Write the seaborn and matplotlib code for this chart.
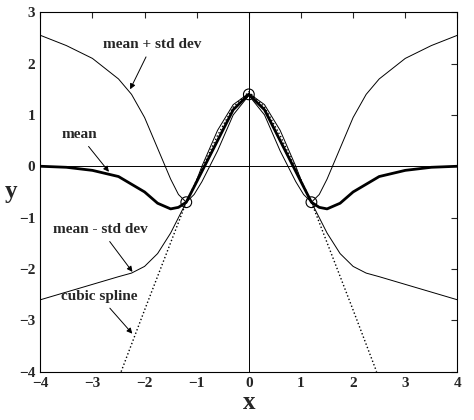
import matplotlib
matplotlib.use("Agg")
import matplotlib.pyplot as plt
import seaborn as sns
import pandas as pd

sns.set_style("white")
plt.rcParams['font.family'] = ['Liberation Serif', 'DejaVu Serif']

xs = [-4, -3.5, -3, -2.5, -2.25, -2, -1.75, -1.5, -1.35, -1.2, -1.05, -0.9, -0.6, -0.3, 0,
      0.3, 0.6, 0.9, 1.05, 1.2, 1.35, 1.5, 1.75, 2, 2.25, 2.5, 3, 3.5, 4]
mean = [0, -0.02, -0.08, -0.2, -0.35, -0.5, -0.72, -0.83, -0.8, -0.7, -0.4, -0.1, 0.5, 1.1, 1.4,
        1.1, 0.5, -0.1, -0.4, -0.7, -0.8, -0.83, -0.72, -0.5, -0.35, -0.2, -0.08, -0.02, 0]
upper = [2.55, 2.35, 2.1, 1.7, 1.4, 0.95, 0.35, -0.25, -0.55, -0.7, -0.4, 0.0, 0.7, 1.2, 1.42,
         1.2, 0.7, 0.0, -0.4, -0.7, -0.55, -0.25, 0.35, 0.95, 1.4, 1.7, 2.1, 2.35, 2.55]
lower = [-2.6, -2.45, -2.3, -2.15, -2.08, -1.95, -1.7, -1.3, -1.0, -0.7, -0.55, -0.3, 0.3, 1.0, 1.38,
         1.0, 0.3, -0.3, -0.55, -0.7, -1.0, -1.3, -1.7, -1.95, -2.08, -2.15, -2.3, -2.45, -2.6]
sx = [-2.45, -2.0, -1.6, -1.2, -0.9, -0.6, -0.3, 0, 0.3, 0.6, 0.9, 1.2, 1.6, 2.0, 2.45]
spline = [-4.0, -2.8, -1.75, -0.7, -0.05, 0.6, 1.15, 1.45, 1.15, 0.6, -0.05, -0.7, -1.75, -2.8, -4.0]
px = [-1.2, 0, 1.2]
py = [-0.7, 1.4, -0.7]

fig = plt.figure(figsize=(4.74, 4.2), dpi=100)
ax = fig.add_axes([0.085, 0.115, 0.88, 0.856])
ax.axhline(0, color='black', lw=0.7)
ax.axvline(0, color='black', lw=0.7)
df = pd.DataFrame({'x': xs, 'mean': mean, 'upper': upper, 'lower': lower})
sns.lineplot(data=df, x='x', y='upper', color='black', lw=0.7, ax=ax)
sns.lineplot(data=df, x='x', y='lower', color='black', lw=0.7, ax=ax)
sns.lineplot(data=df, x='x', y='mean', color='black', lw=2.0, ax=ax)
sns.lineplot(x=sx, y=spline, color='black', lw=1.0, linestyle=':', ax=ax)
ax.scatter(px, py, s=60, facecolors='none', edgecolors='black', lw=0.8, zorder=5)

ax.set_xlim(-4, 4)
ax.set_ylim(-4, 3)
ax.set_xticks(range(-4, 5))
ax.set_yticks(range(-4, 4))
ax.tick_params(direction='in', labelsize=11, length=4, top=True, right=True)
for lab in ax.get_xticklabels() + ax.get_yticklabels():
    lab.set_fontweight('bold')
for s in ax.spines.values():
    s.set_color('black'); s.set_linewidth(0.8)
ax.set_xlabel('x', fontsize=18, fontweight='bold', labelpad=1)
ax.set_ylabel('y', fontsize=18, fontweight='bold', rotation=0, labelpad=6, va='center')

ap = dict(arrowstyle='-|>', color='black', lw=0.7, mutation_scale=8)
fs = 11
ax.annotate('mean + std dev', xy=(-2.3, 1.45), xytext=(-2.8, 2.3), fontsize=fs, fontweight='bold', arrowprops=ap)
ax.annotate('mean', xy=(-2.65, -0.15), xytext=(-3.6, 0.55), fontsize=fs, fontweight='bold', arrowprops=ap)
ax.annotate('mean - std dev', xy=(-2.2, -2.1), xytext=(-3.75, -1.3), fontsize=fs, fontweight='bold', arrowprops=ap)
ax.annotate('cubic spline', xy=(-2.2, -3.3), xytext=(-3.6, -2.6), fontsize=fs, fontweight='bold', arrowprops=ap)
fig.savefig('out.png', dpi=100)
